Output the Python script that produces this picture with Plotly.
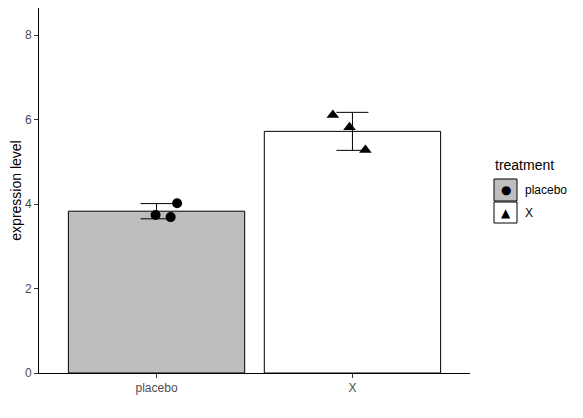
import plotly.graph_objects as go

# group summary (bar height = mean, error = sd)
groups = ["placebo", "X"]
means = [3.83, 5.72]
sds = [0.18, 0.45]
bar_fill = ["#BEBEBE", "#FFFFFF"]

# individual observations, with the small horizontal jitter seen in the picture
placebo_jit = [-0.005, 0.072, 0.105]
placebo_vals = [3.74, 3.69, 4.02]
x_jit = [-0.10, -0.015, 0.066]
x_vals = [6.11, 5.82, 5.28]

font = "Arial, Liberation Sans, sans-serif"

fig = go.Figure()
fig.add_trace(go.Bar(
    x=[0, 1], y=means, width=0.9,
    marker=dict(color=bar_fill, line=dict(color="black", width=1)),
    error_y=dict(type="data", array=sds, visible=True, color="black",
                 thickness=1, width=16),
    showlegend=False,
))
fig.add_trace(go.Scatter(
    x=[0 + j for j in placebo_jit], y=placebo_vals, mode="markers",
    marker=dict(symbol="circle", size=10, color="black"), showlegend=False,
))
fig.add_trace(go.Scatter(
    x=[1 + j for j in x_jit], y=x_vals, mode="markers",
    marker=dict(symbol="triangle-up", size=11, color="black"), showlegend=False,
))

# page offset (body margin) and plot area in page pixels
OFF = 8
W, H = 583 - OFF, 418 - OFF
L, R, T, B = 39, 470, 8, 373
def px(xp):
    return (xp - L) / (R - L)
def py(yp):
    return (B - yp) / (B - T)

# hand-made legend (ggplot style keys)
shapes = []
annots = [dict(text="treatment", x=px(493), y=py(165), xref="paper", yref="paper",
               xanchor="left", yanchor="middle", showarrow=False,
               font=dict(family=font, size=14, color="black"))]
keys = [("placebo", "#BEBEBE", "●", 179, 201), ("X", "#FFFFFF", "▲", 202, 223)]
for name, fill, glyph, y0, y1 in keys:
    shapes.append(dict(type="rect", xref="paper", yref="paper",
                       x0=px(494), x1=px(517), y0=py(y1), y1=py(y0),
                       fillcolor=fill, line=dict(color="black", width=1)))
    annots.append(dict(text=glyph, x=px(505.5), y=py((y0 + y1) / 2), xref="paper", yref="paper",
                       showarrow=False, xanchor="center", yanchor="middle",
                       font=dict(family="DejaVu Sans", size=12, color="black")))
    annots.append(dict(text=name, x=px(523), y=py((y0 + y1) / 2), xref="paper", yref="paper",
                       showarrow=False, xanchor="left", yanchor="middle",
                       font=dict(family=font, size=12, color="black")))

fig.update_layout(
    width=W, height=H,
    margin=dict(l=L - OFF, r=W - (R - OFF), t=T - OFF, b=H - (B - OFF), autoexpand=False),
    plot_bgcolor="white", paper_bgcolor="white",
    font=dict(family=font, size=12, color="#4D4D4D"),
    shapes=shapes, annotations=annots,
    showlegend=False,
)
fig.update_xaxes(
    range=[-0.6, 1.6], tickvals=[0, 1], ticktext=groups,
    showgrid=False, zeroline=False, showline=True, linecolor="black", linewidth=1,
    ticks="outside", ticklen=4, tickcolor="#333333", tickwidth=1,
    tickfont=dict(family=font, size=12, color="#4D4D4D"),
)
fig.update_yaxes(
    range=[0, 8.64], tickvals=[0, 2, 4, 6, 8],
    showgrid=False, zeroline=False, showline=True, linecolor="black", linewidth=1,
    ticks="outside", ticklen=4, tickcolor="#333333", tickwidth=1,
    tickfont=dict(family=font, size=12, color="#4D4D4D"),
    title=dict(text="expression level", font=dict(family=font, size=14, color="black"), standoff=4),
)

fig.write_html("out.html")
